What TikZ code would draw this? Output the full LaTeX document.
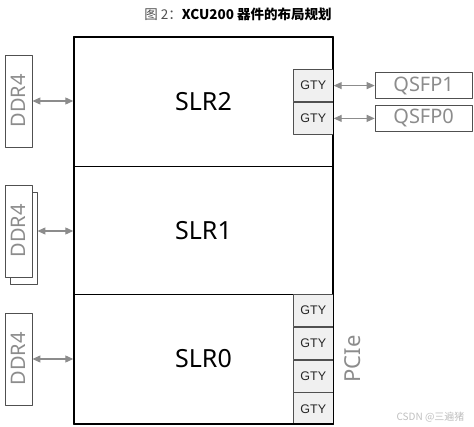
\documentclass[tikz,border=0pt]{standalone}
\usepackage{fontspec}
\setmainfont{Noto Sans}
\newfontfamily\cjk{Noto Sans CJK SC}
\newfontfamily\arialfont{Liberation Sans}
\usetikzlibrary{arrows.meta,positioning}
\definecolor{boxgray}{HTML}{505050}
\definecolor{txtgray}{HTML}{8C8C8C}
\definecolor{gtyfill}{HTML}{F0F0F0}
\tikzset{
  slr/.style={draw=black, line width=1.4pt, minimum width=259pt, minimum height=128.5pt, inner sep=0pt, font=\fontsize{25}{25}\selectfont},
  gty/.style={draw=boxgray, fill=gtyfill, line width=0.8pt, minimum width=40pt, minimum height=32pt, inner sep=0pt, text=black!85, font=\arialfont\fontsize{12.5}{12.5}\selectfont},
  ddr/.style={draw=boxgray, fill=white, line width=0.9pt, rotate=90, minimum width=92pt, minimum height=27pt, inner sep=0pt, text=txtgray, font=\fontsize{20}{20}\selectfont},
  qsfp/.style={draw=boxgray, line width=0.9pt, minimum width=97pt, minimum height=26pt, inner sep=0pt, text=txtgray, font=\fontsize{20}{20}\selectfont},
  link/.style={{Triangle[length=8pt,width=7pt]}-{Triangle[length=8pt,width=7pt]}, draw=txtgray, line width=1.1pt}
}
\begin{document}
\begin{tikzpicture}[x=1pt, y=-1pt, line join=round]
	\useasboundingbox (0,0) rectangle (474,426);
	\node[font=\cjk\fontsize{13.5}{13.5}\selectfont] (title) at (238,14) {\textcolor{boxgray}{图 2：}\textbf{XCU200 器件的布局规划}};
	\node[slr] (slr2) at (203.5,102) {SLR2};
	\node[slr] (slr1) at (203.5,230.5) {SLR1};
	\node[slr] (slr0) at (203.5,359) {SLR0};
	\node[gty, anchor=south east] (gty21) at (slr2.east) {GTY};
	\node[gty, anchor=north east] (gty20) at (slr2.east) {GTY};
	\node[gty, anchor=north east] (gty03) at (slr0.north east) {GTY};
	\node[gty, below=0pt of gty03] (gty02) {GTY};
	\node[gty, below=0pt of gty02] (gty01) {GTY};
	\node[gty, below=0pt of gty01] (gty00) {GTY};
	\draw[line width=1.4pt] (slr2.north west) rectangle (slr0.south east);
	\node[qsfp, right=41pt of gty21] (qsfp1) {QSFP1};
	\node[qsfp, right=41pt of gty20] (qsfp0) {QSFP0};
	\node[rotate=90, text=txtgray, font=\fontsize{22}{22}\selectfont] (pcie) at (353,359) {PCIe};
	\node[ddr] (ddr2) at (18.5,101) {DDR4};
	\node[ddr] (ddr1b) at (23.5,238.5) {};
	\node[ddr] (ddr1) at (18.5,231) {DDR4};
	\node[ddr] (ddr0) at (18.5,359) {DDR4};
	\draw[link] (gty21) -- (qsfp1);
	\draw[link] (gty20) -- (qsfp0);
	\draw[link] (ddr2) -- (ddr2 -| slr2.west);
	\draw[link] (ddr1 -| ddr1b.south) -- (ddr1 -| slr1.west);
	\draw[link] (ddr0) -- (ddr0 -| slr0.west);
	\node[anchor=east, text=black!25, font=\cjk\fontsize{10}{10}\selectfont] (mark) at (468,417) {CSDN @三遍猪};
\end{tikzpicture}
\end{document}
